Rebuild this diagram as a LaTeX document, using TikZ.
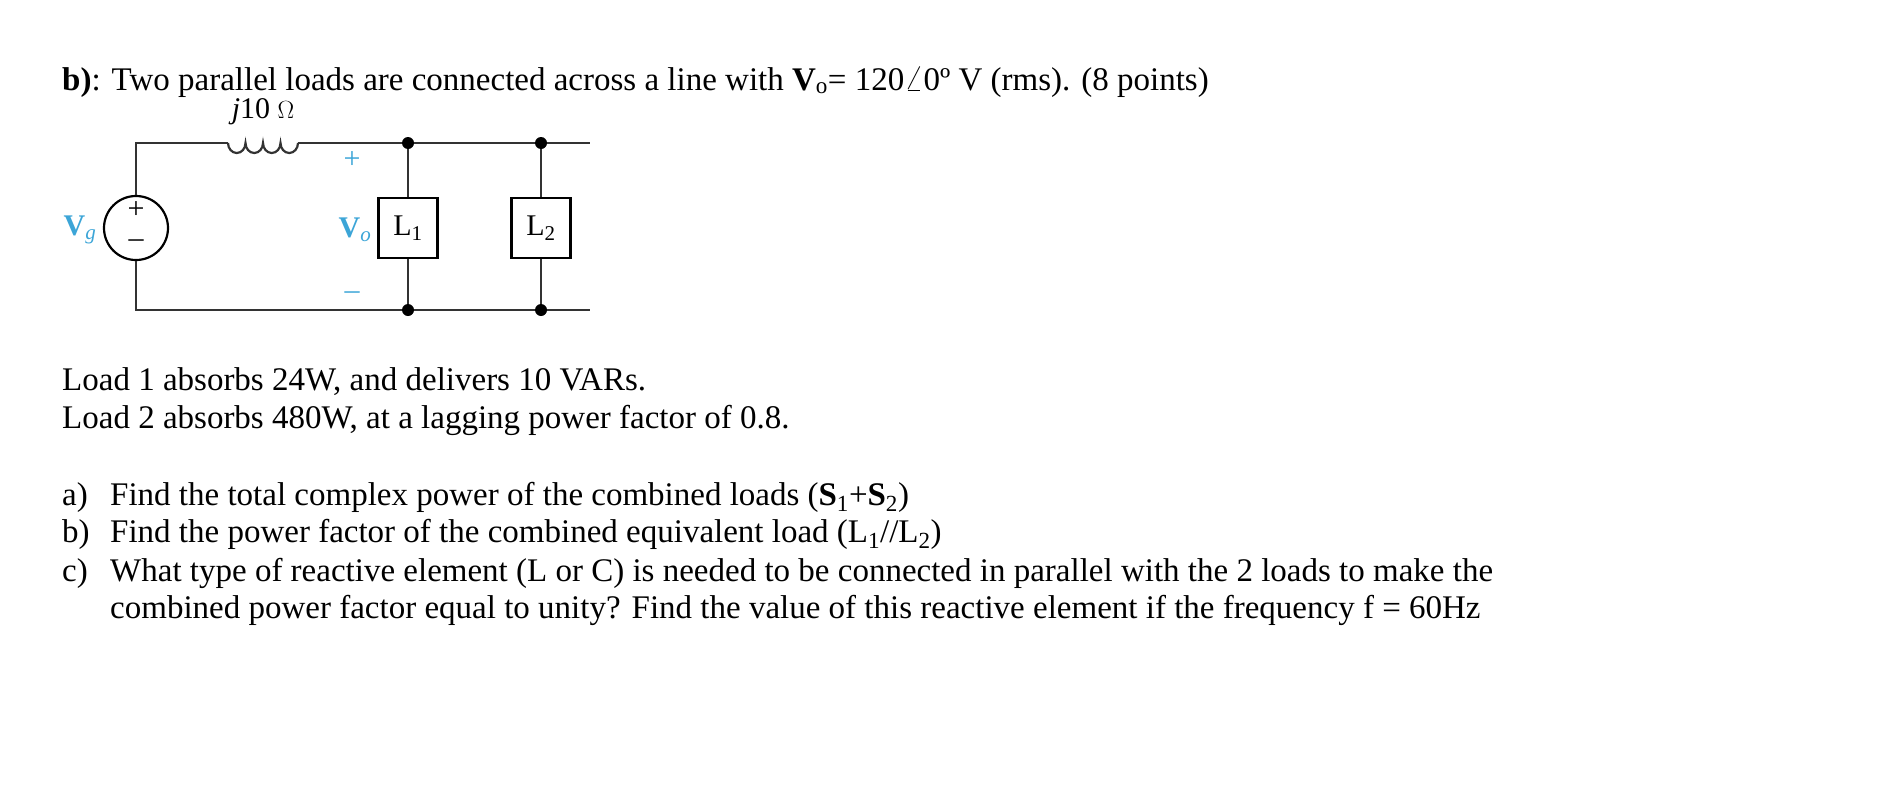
\documentclass[tikz,border=0pt]{standalone}
\usepackage{fontspec}
\setmainfont{Liberation Serif}
\definecolor{cblue}{RGB}{60,165,215}
\begin{document}
\begin{tikzpicture}[x=1pt,y=-1pt,
  wire/.style={line width=2.2pt,black!80},
  txt/.style={anchor=base west,inner sep=0,font=\fontsize{33}{40}\selectfont},
  ctxt/.style={inner sep=0,font=\fontsize{30}{36}\selectfont},
  dot/.style={circle,fill=black,inner sep=0,minimum size=12pt},
  load/.style={draw,line width=2.2pt,minimum width=59pt,minimum height=60pt,inner sep=0,font=\fontsize{30}{36}\selectfont}]
\useasboundingbox (0,0) rectangle (1879,798);
\node[txt] (title) at (62,90) {\textbf{b)}: Two parallel loads are connected across a line with \textbf{V}\textsubscript{o}= 120$\angle$0º V (rms). (8 points)};
\node[ctxt,anchor=base] (lab) at (263,118) {\textit{j}10 $\Omega$};
% circuit
\coordinate (tl) at (136,143); \coordinate (bl) at (136,310);
\coordinate (i1) at (228,143); \coordinate (i2) at (298,143);
\node[dot] (n1) at (408,143) {}; \node[dot] (n2) at (541,143) {};
\node[dot] (n3) at (408,310) {}; \node[dot] (n4) at (541,310) {};
\coordinate (re1) at (590,143); \coordinate (re2) at (590,310);
\node[draw,circle,line width=2.2pt,minimum size=64pt,inner sep=0] (src) at (136,228) {};
\node[ctxt] at (136,210) {+}; \node[ctxt] at (136,244) {--};
\node[load] (L1) at (408,228) {L\textsubscript{1}};
\node[load] (L2) at (541,228) {L\textsubscript{2}};
\draw[wire] (src.north) -- (tl) -- (i1);
\draw[wire] (i1) \foreach \k in {0,1,2,3} { arc[start angle=180,end angle=0,x radius=8.75,y radius=10] };
\draw[wire] (i2) -- (n1) -- (n2) -- (re1);
\draw[wire] (src.south) -- (bl) -- (n3) -- (n4) -- (re2);
\draw[wire] (n1) -- (L1.north); \draw[wire] (L1.south) -- (n3);
\draw[wire] (n2) -- (L2.north); \draw[wire] (L2.south) -- (n4);
\node[ctxt,text=cblue] (vg) at (80,230) {\textbf{V}\textsubscript{\textit{g}}};
\node[ctxt,text=cblue] (vo) at (355,230) {\textbf{V}\textsubscript{\textit{o}}};
\node[ctxt,text=cblue] (pl) at (352,160) {+};
\node[ctxt,text=cblue] (mi) at (352,296) {--};
% text
\node[txt] (t1) at (62,390) {Load 1 absorbs 24W, and delivers 10 VARs.};
\node[txt] (t2) at (62,428) {Load 2 absorbs 480W, at a lagging power factor of 0.8.};
\node[txt] (a) at (62,505) {a)}; \node[txt] (at) at (110,505) {Find the total complex power of the combined loads (\textbf{S}\textsubscript{1}+\textbf{S}\textsubscript{2})};
\node[txt] (b) at (62,542) {b)}; \node[txt] (bt) at (110,542) {Find the power factor of the combined equivalent load (L\textsubscript{1}//L\textsubscript{2})};
\node[txt] (c) at (62,581) {c)}; \node[txt] (ct) at (110,581) {What type of reactive element (L or C) is needed to be connected in parallel with the 2 loads to make the};
\node[txt] (ct2) at (110,618) {combined power factor equal to unity? Find the value of this reactive element if the frequency f = 60Hz};
\end{tikzpicture}
\end{document}
